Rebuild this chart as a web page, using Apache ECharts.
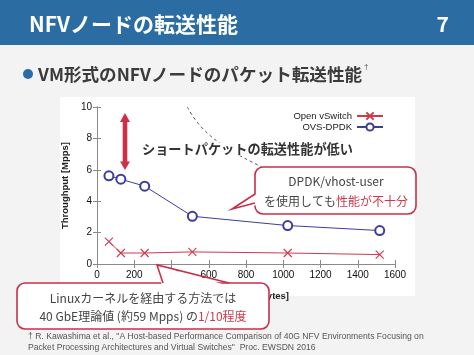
<!DOCTYPE html>
<html><head><meta charset="utf-8">
<script src="https://cdn.jsdelivr.net/npm/echarts@6/dist/echarts.min.js"></script>
<style>html,body{margin:0;padding:0;background:#f3f3f3;}#c{width:474px;height:355px;}</style>
</head><body><div id="c"></div>
<script>
// ---- data ----
const packetSizes = [64, 128, 256, 512, 1024, 1518];
const ovsValues = [1.42, 0.70, 0.70, 0.77, 0.70, 0.60];
const dpdkValues = [5.62, 5.40, 4.96, 3.04, 2.45, 2.13];
const lineRateSizes = [485, 570, 714, 880, 1000];
const lineRateValues = [10.0, 8.6, 7.3, 6.2, 5.5];
const seriesNames = ['Open vSwitch', 'OVS-DPDK'];
const xAxisRange = {min: 0, max: 1600, interval: 200};
const yAxisRange = {min: 0, max: 10, interval: 2};

const RED = '#d0394b';
const BLUE = '#3d3d9c';
const BOXRED = '#c8304a';
const CJK = '"Noto Sans CJK JP", sans-serif';
const LAT = '"Liberation Sans", Arial, sans-serif';

const pair = (xs, ys) => xs.map((x, i) => [x, ys[i]]);

const chart = echarts.init(document.getElementById('c'), null, {renderer: 'canvas'});

const axisCommon = {
  type: 'value',
  axisLine: {show: true, lineStyle: {color: '#8a8a8a', width: 1}},
  axisTick: {show: true, inside: true, length: 4, lineStyle: {color: '#8a8a8a'}},
  splitLine: {show: false}
};

function callout(box, pointer, lines) {
  const els = [];
  els.push({type: 'rect', z: 100, shape: {x: box.x, y: box.y, width: box.w, height: box.h, r: 8},
    style: {fill: '#fff', stroke: BOXRED, lineWidth: 1.6}});
  els.push({type: 'polygon', z: 101, shape: {points: pointer.cover},
    style: {fill: '#fff', stroke: null}});
  els.push({type: 'polyline', z: 102, shape: {points: pointer.edge},
    style: {fill: null, stroke: BOXRED, lineWidth: 1.6}});
  lines.forEach(l => {
    els.push({type: 'text', z: 103, x: l.x, y: l.y,
      style: {text: l.text, align: 'center', verticalAlign: 'middle', fontSize: 12,
        fontFamily: CJK, fill: '#444',
        rich: {r: {fill: RED, fontSize: 12, fontFamily: CJK, color: RED}}}});
  });
  return els;
}

const graphics = [
  {type: 'rect', z: -10, shape: {x: 0, y: 0, width: 474, height: 45}, style: {fill: '#2b6ca3'}},
  {type: 'text', x: 29, y: 24, style: {text: 'NFVノードの転送性能', fill: '#fff', fontSize: 21,
    fontWeight: 'bold', fontFamily: CJK, verticalAlign: 'middle'}},
  {type: 'text', x: 449, y: 24, style: {text: '7', fill: '#fff', fontSize: 21,
    fontWeight: 'bold', fontFamily: CJK, align: 'right', verticalAlign: 'middle'}},
  {type: 'circle', shape: {cx: 28, cy: 74, r: 5}, style: {fill: '#2b6ca3'}},
  {type: 'text', x: 38, y: 74, style: {text: 'VM形式のNFVノードのパケット転送性能', fill: '#3b3b3b',
    fontSize: 17.6, fontWeight: 'bold', fontFamily: CJK, verticalAlign: 'middle'}},
  {type: 'text', x: 364, y: 67, style: {text: '†', fill: '#555', fontSize: 8, fontFamily: LAT,
    verticalAlign: 'middle'}},
  {type: 'rect', z: -10, shape: {x: 60, y: 97, width: 355, height: 199}, style: {fill: '#fff'}},
  // red double arrow
  {type: 'rect', z: 50, shape: {x: 122.7, y: 120, width: 4.6, height: 43}, style: {fill: '#cf2f44'}},
  {type: 'polygon', z: 50, shape: {points: [[125, 113], [130, 122], [120, 122]]}, style: {fill: '#cf2f44'}},
  {type: 'polygon', z: 50, shape: {points: [[125, 170], [130, 161.5], [120, 161.5]]}, style: {fill: '#cf2f44'}},
  {type: 'text', z: 40, x: 142, y: 149, style: {text: 'ショートパケットの転送性能が低い', fill: '#333',
    fontSize: 13.2, fontWeight: 'bold', fontFamily: CJK, verticalAlign: 'middle',
    backgroundColor: '#fff'}},
  {type: 'text', x: 28, y: 337, style: {text: '† R. Kawashima et al., "A Host-based Performance Comparison of 40G NFV Environments Focusing on',
    fill: '#555', fontSize: 8.6, fontFamily: LAT, verticalAlign: 'middle'}},
  {type: 'text', x: 28, y: 347.5, style: {text: 'Packet Processing Architectures and Virtual Switches"  Proc. EWSDN 2016',
    fill: '#555', fontSize: 8.6, fontFamily: LAT, verticalAlign: 'middle'}}
].concat(
  callout({x: 255, y: 167, w: 161, h: 47},
    {cover: [[232, 209], [258, 193], [258, 205]], edge: [[255, 194], [232, 209], [255, 203]]},
    [{x: 336, y: 181, text: 'DPDK/vhost-user'},
     {x: 336, y: 201, text: 'を使用しても{r|性能が不十分}'}]),
  callout({x: 17, y: 283, w: 252, h: 46},
    {cover: [[157, 265], [162, 286], [229, 286]], edge: [[163, 283], [157, 265], [229, 283]]},
    [{x: 143, y: 298, text: 'Linuxカーネルを経由する方法では'},
     {x: 143, y: 316.5, text: '40 GbE理論値 (約59 Mpps) の{r|1/10程度}'}])
);

const plain = v => String(v);

const option = {
  backgroundColor: '#f3f3f3',
  animation: false,
  grid: {left: 97, right: 79, top: 107, bottom: 91, show: false},
  legend: {
    data: seriesNames,
    orient: 'vertical', right: 90, top: 111, align: 'right',
    itemWidth: 26, itemHeight: 9, itemGap: 1,
    textStyle: {fontSize: 9.5, color: '#222', fontFamily: LAT, padding: [0, 0, 0, 0]},
    padding: 0
  },
  xAxis: [
    Object.assign({}, axisCommon, xAxisRange, {position: 'bottom',
      name: 'Packet size [Bytes]', nameLocation: 'middle', nameGap: 27,
      nameTextStyle: {fontSize: 9.5, color: '#222', fontFamily: LAT, fontWeight: 'bold'},
      axisLabel: {fontSize: 10, color: '#111', fontFamily: LAT, margin: 6, formatter: plain}}),
    Object.assign({}, axisCommon, xAxisRange, {position: 'top', axisLabel: {show: false}})
  ],
  yAxis: [
    Object.assign({}, axisCommon, yAxisRange, {position: 'left',
      name: 'Throughput [Mpps]', nameLocation: 'middle', nameGap: 22, nameRotate: 90,
      nameTextStyle: {fontSize: 9.5, color: '#222', fontFamily: LAT, fontWeight: 'bold'},
      axisLabel: {fontSize: 10, color: '#111', fontFamily: LAT, margin: 5, formatter: plain}}),
    Object.assign({}, axisCommon, yAxisRange, {position: 'right', axisLabel: {show: false}})
  ],
  series: [
    {name: 'line-rate', type: 'line', data: pair(lineRateSizes, lineRateValues), smooth: true,
     showSymbol: false, silent: true, z: 1,
     lineStyle: {color: '#555', width: 1, type: [3, 3]}},
    {name: seriesNames[0], type: 'line', data: pair(packetSizes, ovsValues),
     color: RED, symbol: 'path://M0,0L10,10M10,0L0,10', symbolSize: 8, symbolKeepAspect: true,
     itemStyle: {color: RED, borderColor: RED, borderWidth: 1.1},
     lineStyle: {color: RED, width: 1}},
    {name: seriesNames[1], type: 'line', data: pair(packetSizes, dpdkValues),
     color: BLUE, symbol: 'emptyCircle', symbolSize: 9,
     itemStyle: {color: BLUE, borderColor: BLUE, borderWidth: 1},
     lineStyle: {color: BLUE, width: 1}}
  ],
  graphic: graphics
};
chart.setOption(option);
</script></body></html>
